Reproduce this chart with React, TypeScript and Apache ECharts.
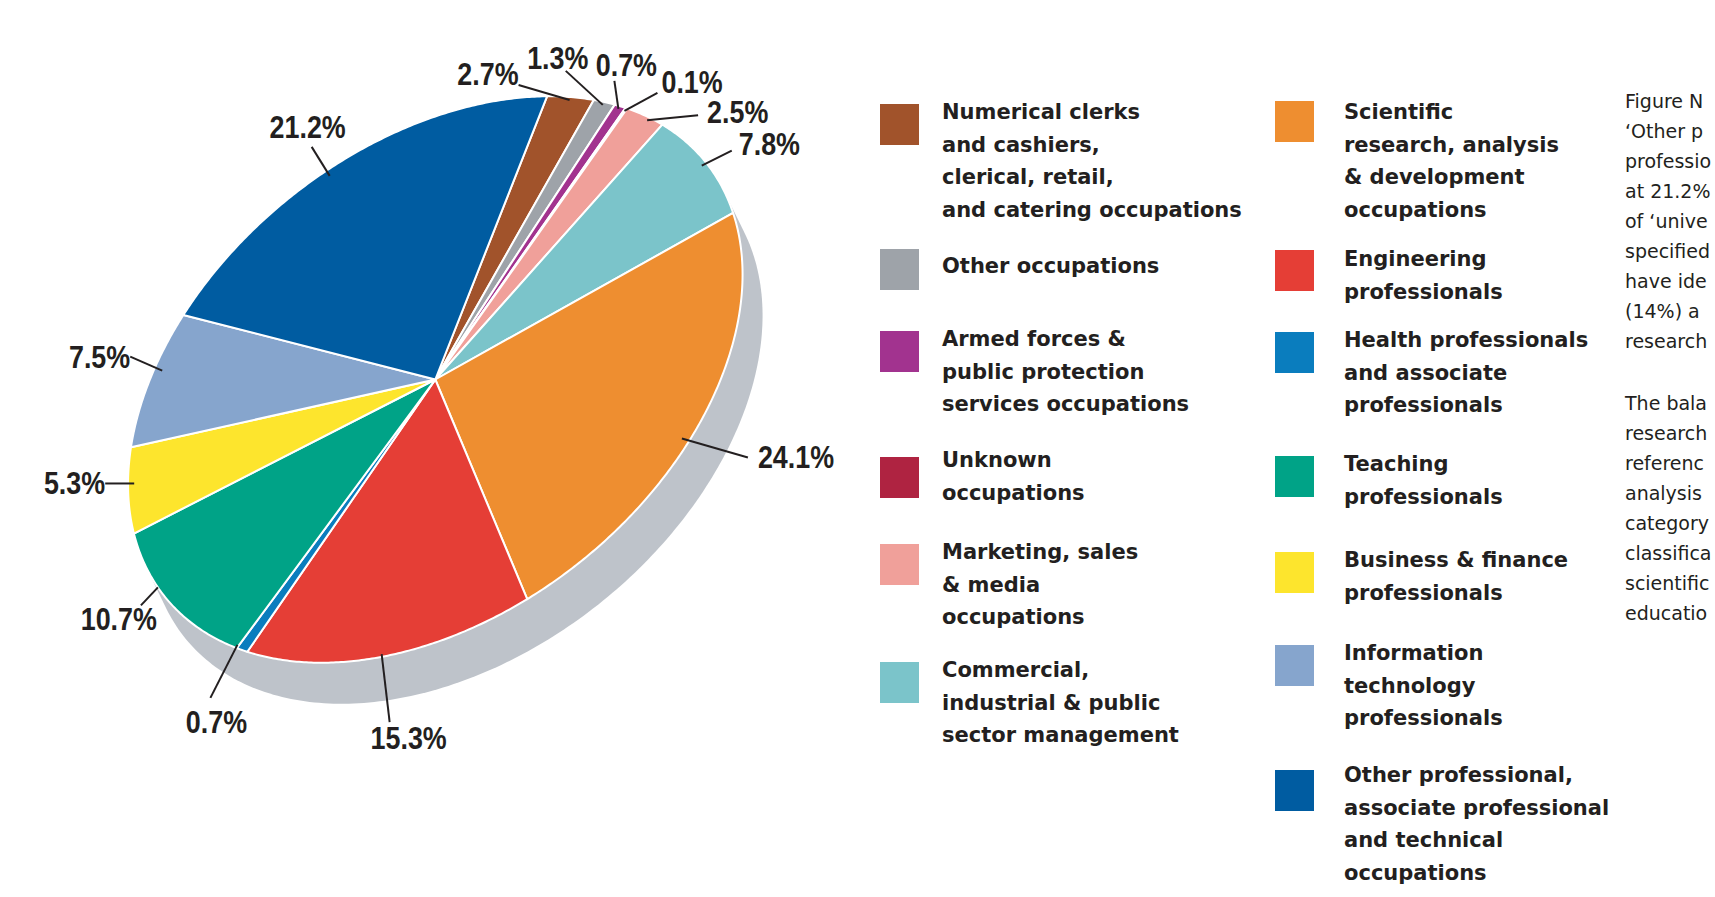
import React, { useEffect, useRef } from "react";
import * as echarts from "echarts";

// ---------- data ----------
const categories = [
  "Numerical clerks and cashiers, clerical, retail, and catering occupations",
  "Other occupations",
  "Armed forces & public protection services occupations",
  "Unknown occupations",
  "Marketing, sales & media occupations",
  "Commercial, industrial & public sector management",
  "Scientific research, analysis & development occupations",
  "Engineering professionals",
  "Health professionals and associate professionals",
  "Teaching professionals",
  "Business & finance professionals",
  "Information technology professionals",
  "Other professional, associate professional and technical occupations",
];

const values = [2.7, 1.3, 0.7, 0.1, 2.5, 7.8, 24.1, 15.3, 0.7, 10.7, 5.3, 7.5, 21.2];

const legendLines = [
  ["Numerical clerks", "and cashiers,", "clerical, retail,", "and catering occupations"],
  ["Other occupations"],
  ["Armed forces &", "public protection", "services occupations"],
  ["Unknown", "occupations"],
  ["Marketing, sales", "& media", "occupations"],
  ["Commercial,", "industrial & public", "sector management"],
  ["Scientific", "research, analysis", "& development", "occupations"],
  ["Engineering", "professionals"],
  ["Health professionals", "and associate", "professionals"],
  ["Teaching", "professionals"],
  ["Business & finance", "professionals"],
  ["Information", "technology", "professionals"],
  ["Other professional,", "associate professional", "and technical", "occupations"],
];

const noteParagraph1 = ["Figure N", "\u2018Other p", "professio", "at 21.2%", "of \u2018unive", "specified", "have ide", "(14%) a", "research"];
const noteParagraph2 = ["The bala", "research", "referenc", "analysis", "category", "classifica", "scientific", "educatio"];

// ---------- styles / layout ----------
const colors = [
  "#A1532B", "#9EA3A9", "#A2338F", "#AF2341", "#F0A09A", "#7BC4CA", "#EE8E30",
  "#E53E36", "#0A7DBE", "#00A387", "#FDE52D", "#86A5CD", "#005CA1",
];
const TEXT_COLOR = "#231f20";
const SIDE_COLOR = "#BEC3CA";

const CX = 435.3, CY = 379.5, RA = 346.9, RB = 233.0, TILT = -38.8, START = -40.3;
const DEPTH = [20, 41];

const LABEL_LAYOUT = [
  { dphi: 0, r: 0.99, dx: -51, dy: -15, align: "right", tx: 0, ty: -11 },
  { dphi: 0, r: 0.99, dx: -37, dy: -34, align: "center", tx: -8, ty: -13 },
  { dphi: 0, r: 0.99, dx: -4, dy: -28, align: "center", tx: 12, ty: -16 },
  { dphi: 0, r: 0.99, dx: 33, dy: -18, align: "left", tx: 4, ty: -11 },
  { dphi: 1, r: 0.99, dx: 51, dy: -5, align: "left", tx: 9, ty: -4 },
  { dphi: 0, r: 0.985, dx: 30, dy: -15, align: "left", tx: 7, ty: -7 },
  { dphi: 5, r: 0.97, dx: 66, dy: 19, align: "left", tx: 10, ty: -1 },
  { dphi: 0, r: 0.99, dx: 8, dy: 68, align: "center", tx: 19, ty: 15 },
  { dphi: 1.6, r: 0.99, dx: -27, dy: 53, align: "center", tx: 6, ty: 24 },
  { dphi: 5, r: 1.0, dx: -17, dy: 18, align: "right", tx: 16, ty: 13 },
  { dphi: 1.4, r: 0.98, dx: -29, dy: 0, align: "right", tx: 0, ty: -1 },
  { dphi: 2.2, r: 0.97, dx: -32, dy: -14, align: "right", tx: 0, ty: 0 },
  { dphi: -3.8, r: 0.974, dx: -18, dy: -29, align: "center", tx: -4, ty: -20 },
];

const LEGEND_COL = [0, 0, 0, 0, 0, 0, 1, 1, 1, 1, 1, 1, 1];
const LEGEND_ICON_X = [880, 1275];
const LEGEND_TEXT_X = [942, 1344];
const LEGEND_TOPS = [104, 249, 331, 457, 544, 662, 101, 250, 332, 456, 552, 645, 770];
// first text line centre, relative to icon top
const LEGEND_TEXT_DY = [8, 17, 8, 3, 8, 8, 11, 9, 8, 8, 8, 8, 5];
const ICON_W = 39, ICON_H = 41, LEGEND_LH = 32.5;

const DEG = Math.PI / 180;
const ux = Math.cos(TILT * DEG), uy = Math.sin(TILT * DEG);
const wx = -uy, wy = ux;
function pt(phiDeg: number, r = 1, ox = 0, oy = 0): number[] {
  const p = phiDeg * DEG;
  const c = Math.cos(p) * RA * r;
  const s = Math.sin(p) * RB * r;
  return [CX + c * ux + s * wx + ox, CY + c * uy + s * wy + oy];
}

export default function App() {
  const ref = useRef<HTMLDivElement>(null);

  useEffect(() => {
    if (!ref.current) return;
    const chart = echarts.init(ref.current, null, { renderer: "svg" });

    const total = values.reduce((s, v) => s + v, 0);
    const cum: number[] = [];
    let acc = 0;
    values.forEach((v) => { cum.push(acc); acc += v; });

    // tangent angles for the side (extrusion)
    const du = DEPTH[0] * ux + DEPTH[1] * uy;
    const dw = DEPTH[0] * wx + DEPTH[1] * wy;
    let phi1 = Math.atan2(-RB * du, RA * dw) / DEG;
    const midTest = pt(phi1 + 90);
    if ((midTest[0] - CX) * DEPTH[0] + (midTest[1] - CY) * DEPTH[1] < 0) phi1 += 180;

    const sideRender = () => {
      const pts: number[][] = [];
      for (let k = 0; k <= 180; k++) pts.push(pt(phi1 + k, 1, DEPTH[0], DEPTH[1]));
      for (let k = 180; k <= 360; k++) pts.push(pt(phi1 + k));
      return { type: "polygon", shape: { points: pts }, style: { fill: SIDE_COLOR } };
    };

    const sliceRender = (params: any, api: any) => {
      const i = params.dataIndex;
      const v = api.value(0);
      const a0 = START + (cum[i] / total) * 360;
      const a1 = a0 + (v / total) * 360;
      const pts: number[][] = [[CX, CY]];
      const n = Math.max(2, Math.ceil((a1 - a0) / 0.5));
      for (let k = 0; k <= n; k++) pts.push(pt(a0 + ((a1 - a0) * k) / n));
      const L = LABEL_LAYOUT[i];
      const mid = (a0 + a1) / 2 + L.dphi;
      const inner = pt(mid, L.r);
      const outer = [inner[0] + L.dx, inner[1] + L.dy];
      return {
        type: "group",
        children: [
          {
            type: "polygon",
            shape: { points: pts },
            style: { fill: colors[i], stroke: "#ffffff", lineWidth: 2, lineJoin: "round" },
          },
          {
            type: "polyline",
            shape: { points: [inner, outer] },
            style: { stroke: TEXT_COLOR, lineWidth: 2, fill: null },
            z2: 10,
          },
          {
            type: "text",
            x: outer[0] + L.tx,
            y: outer[1] + L.ty,
            scaleX: 0.84,
            style: {
              text: `${v.toFixed(1)}%`,
              fill: TEXT_COLOR,
              fontSize: 32,
              fontWeight: "bold",
              fontFamily: "'Liberation Sans', Arial, sans-serif",
              align: L.align,
              verticalAlign: "middle",
            },
            z2: 10,
          },
        ],
      };
    };

    const graphics: any[] = [];
    legendLines.forEach((lines, i) => {
      const col = LEGEND_COL[i];
      const top = LEGEND_TOPS[i];
      graphics.push({
        type: "rect",
        shape: { x: LEGEND_ICON_X[col], y: top, width: ICON_W, height: ICON_H },
        style: { fill: colors[i] },
      });
      const firstCenter = top + LEGEND_TEXT_DY[i];
      graphics.push({
        type: "text",
        x: LEGEND_TEXT_X[col],
        y: firstCenter - LEGEND_LH / 2,
        style: {
          text: lines.join("\n"),
          fill: TEXT_COLOR,
          fontSize: 21,
          fontWeight: "bold",
          fontFamily: "'DejaVu Sans', sans-serif",
          lineHeight: LEGEND_LH,
          verticalAlign: "top",
        },
      });
    });
    const noteStyle = {
      fill: TEXT_COLOR,
      fontSize: 19,
      fontFamily: "'DejaVu Sans', sans-serif",
      lineHeight: 30,
      verticalAlign: "top",
    };
    graphics.push({ type: "text", x: 1625, y: 100.6 - 15, style: { ...noteStyle, text: noteParagraph1.join("\n") } });
    graphics.push({ type: "text", x: 1625, y: 402.5 - 15, style: { ...noteStyle, text: noteParagraph2.join("\n") } });

    chart.setOption({
      animation: false,
      backgroundColor: "#ffffff",
      graphic: graphics,
      series: [
        {
          type: "custom",
          name: "side",
          coordinateSystem: "none",
          silent: true,
          data: [0],
          renderItem: sideRender,
        },
        {
          type: "custom",
          name: "Occupations",
          coordinateSystem: "none",
          data: values.map((v, i) => ({ name: categories[i], value: v })),
          renderItem: sliceRender,
        },
      ],
    });

    return () => chart.dispose();
  }, []);

  return (
    <div
      ref={ref}
      style={{ position: "absolute", left: 0, top: 0, width: 1715, height: 897, background: "#fff" }}
    />
  );
}
